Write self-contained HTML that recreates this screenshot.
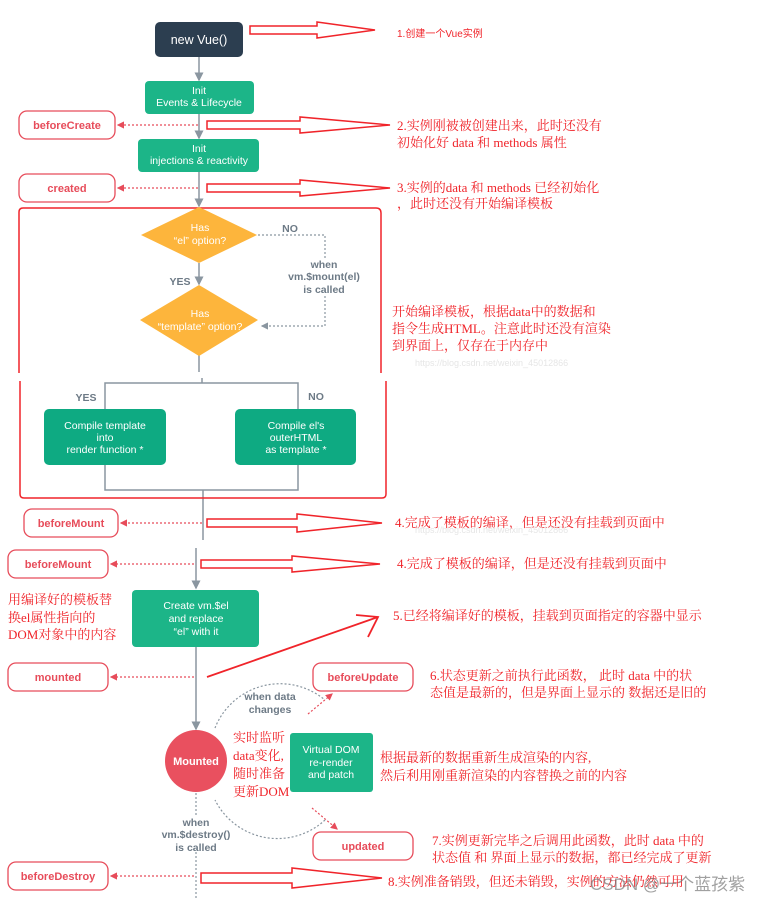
<!DOCTYPE html>
<html><head><meta charset="utf-8"><style>
html,body{margin:0;padding:0;background:#fff;}
svg{display:block;}
.s{font-family:"Liberation Sans","Noto Sans CJK SC",sans-serif;}
.c{font-family:"Liberation Serif","Noto Serif CJK SC",serif;fill:#f0242a;font-size:13px;}
.w{fill:#fff;font-size:10.5px;text-anchor:middle;}
.g{fill:#6d7a86;font-size:10.5px;font-weight:bold;text-anchor:middle;}
.h{fill:#e74c5a;font-size:11px;font-weight:bold;text-anchor:middle;}
</style></head><body>
<svg width="777" height="899" viewBox="0 0 777 899" class="s">
<defs>
<marker id="ga" markerWidth="6" markerHeight="6" refX="5" refY="3" orient="auto"><path d="M0,0L6,3L0,6z" fill="#8a96a0"/></marker>
<marker id="ra" markerWidth="6" markerHeight="6" refX="5" refY="3" orient="auto"><path d="M0,0L6,3L0,6z" fill="#e74c5a"/></marker>
</defs>
<g fill="none" stroke="#8a96a0" stroke-width="1.5">
<line x1="199" y1="57" x2="199" y2="80" marker-end="url(#ga)"/>
<line x1="199" y1="114" x2="199" y2="138" marker-end="url(#ga)"/>
<line x1="199" y1="172" x2="199" y2="206" marker-end="url(#ga)"/>
<line x1="199" y1="263" x2="199" y2="284" marker-end="url(#ga)"/>
<line x1="199" y1="355" x2="199" y2="372"/>
<polyline points="105,409 105,383 298,383 298,409"/>
<line x1="202" y1="383" x2="202" y2="378"/>
<polyline points="105,465 105,490 298,490 298,465"/>
<line x1="203" y1="490" x2="203" y2="540"/>
<line x1="196" y1="548" x2="196" y2="588" marker-end="url(#ga)"/>
<line x1="196" y1="647" x2="196" y2="729" marker-end="url(#ga)"/>
</g>
<g fill="none" stroke="#8a96a0" stroke-width="1.2" stroke-dasharray="2,2">
<polyline points="258,235 325,235 325,260"/>
<polyline points="325,296 325,326 262,326" marker-end="url(#ga)"/>
<line x1="196" y1="793" x2="196" y2="815"/>
<line x1="196" y1="852" x2="196" y2="899"/>
<path d="M215,728 A70,70 0 0 1 325,700"/>
<path d="M325,820 A70,70 0 0 1 215,800"/>
</g>
<!-- red frame -->
<path d="M19,373 L19,212 Q19,208 23,208 L376,208 Q381,208 381,213 L381,373" fill="none" stroke="#f0242a" stroke-width="1.5"/>
<path d="M20,381 L20,494 Q20,498 24,498 L382,498 Q386,498 386,494 L386,381" fill="none" stroke="#f0242a" stroke-width="1.5"/>
<!-- nodes -->
<rect x="155" y="22" width="88" height="35" rx="5" fill="#2c3e50"/>
<text x="199" y="44" fill="#fff" font-size="12.5" text-anchor="middle">new Vue()</text>
<rect x="145" y="81" width="109" height="33" rx="4" fill="#1cb588"/>
<text x="199" y="94" class="w">Init</text><text x="199" y="106" class="w">Events &amp; Lifecycle</text>
<rect x="138" y="139" width="121" height="33" rx="4" fill="#1cb588"/>
<text x="199" y="152" class="w">Init</text><text x="199" y="164" class="w">injections &amp; reactivity</text>
<polygon points="199,207 257,235 199,263 141,235" fill="#fdb53c"/>
<text x="200" y="231" class="w">Has</text><text x="200" y="244" class="w">“el” option?</text>
<polygon points="199,285 258,320 199,356 140,320" fill="#fdb53c"/>
<text x="200" y="317" class="w">Has</text><text x="200" y="330" class="w">“template” option?</text>
<text x="290" y="232" class="g">NO</text><text x="180" y="285" class="g">YES</text>
<text x="324" y="268" class="g">when</text><text x="324" y="280" class="g">vm.$mount(el)</text><text x="324" y="293" class="g">is called</text>
<text x="86" y="401" class="g">YES</text><text x="316" y="400" class="g">NO</text>
<rect x="44" y="409" width="122" height="56" rx="5" fill="#0eaa82"/>
<text x="105" y="429" class="w">Compile template</text><text x="105" y="441" class="w">into</text><text x="105" y="453" class="w">render function *</text>
<rect x="235" y="409" width="121" height="56" rx="5" fill="#0eaa82"/>
<text x="296" y="429" class="w">Compile el's</text><text x="296" y="441" class="w">outerHTML</text><text x="296" y="453" class="w">as template *</text>
<rect x="132" y="590" width="127" height="57" rx="4" fill="#1cb588"/>
<text x="196" y="609" class="w">Create vm.$el</text><text x="196" y="622" class="w">and replace</text><text x="196" y="635" class="w">“el” with it</text>
<ellipse cx="196" cy="761" rx="31" ry="31" fill="#e9505f"/>
<text x="196" y="765" fill="#fff" font-size="11" font-weight="bold" text-anchor="middle">Mounted</text>
<rect x="290" y="733" width="83" height="59" rx="3" fill="#1cb588"/>
<text x="331" y="753" class="w">Virtual DOM</text><text x="331" y="766" class="w">re-render</text><text x="331" y="778" class="w">and patch</text>
<text x="270" y="700" class="g">when data</text><text x="270" y="713" class="g">changes</text>
<text x="196" y="826" class="g">when</text><text x="196" y="838" class="g">vm.$destroy()</text><text x="196" y="851" class="g">is called</text>
<!-- hooks -->
<g fill="#fff" stroke="#e74c5a" stroke-width="1.3">
<rect x="19" y="111" width="96" height="28" rx="8"/>
<rect x="19" y="174" width="96" height="28" rx="8"/>
<rect x="24" y="509" width="94" height="28" rx="8"/>
<rect x="8" y="550" width="100" height="28" rx="8"/>
<rect x="8" y="663" width="100" height="28" rx="8"/>
<rect x="313" y="663" width="100" height="28" rx="8"/>
<rect x="313" y="832" width="100" height="28" rx="8"/>
<rect x="8" y="862" width="100" height="28" rx="8"/>
</g>
<text x="67" y="129" class="h">beforeCreate</text>
<text x="67" y="192" class="h">created</text>
<text x="71" y="527" class="h">beforeMount</text>
<text x="58" y="568" class="h">beforeMount</text>
<text x="58" y="681" class="h">mounted</text>
<text x="363" y="681" class="h">beforeUpdate</text>
<text x="363" y="850" class="h">updated</text>
<text x="58" y="880" class="h">beforeDestroy</text>
<g stroke="#e74c5a" stroke-width="1.2" stroke-dasharray="2,2" fill="none">
<line x1="198" y1="125" x2="118" y2="125" marker-end="url(#ra)"/>
<line x1="198" y1="188" x2="118" y2="188" marker-end="url(#ra)"/>
<line x1="202" y1="523" x2="121" y2="523" marker-end="url(#ra)"/>
<line x1="194" y1="564" x2="111" y2="564" marker-end="url(#ra)"/>
<line x1="194" y1="677" x2="111" y2="677" marker-end="url(#ra)"/>
<line x1="194" y1="876" x2="111" y2="876" marker-end="url(#ra)"/>
<line x1="308" y1="714" x2="332" y2="694" marker-end="url(#ra)"/>
<line x1="312" y1="808" x2="337" y2="829" marker-end="url(#ra)"/>
</g>
<!-- hollow arrows -->
<g fill="#fff" stroke="#f0242a" stroke-width="1.5">
<polygon points="250,26 317,26 317,22 375,30 317,38 317,34 250,34"/>
<polygon points="207,121 300,121 300,117 390,125 300,133 300,129 207,129"/>
<polygon points="207,184 300,184 300,180 390,188 300,196 300,192 207,192"/>
<polygon points="207,519 297,519 297,514 382,523 297,532 297,527 207,527"/>
<polygon points="201,560 292,560 292,556 380,564 292,572 292,568 201,568"/>
<polygon points="201,873 292,873 292,868 382,878 292,888 292,883 201,883"/>
</g>
<g stroke="#f0242a" stroke-width="1.8" fill="none">
<line x1="207" y1="677" x2="378" y2="617"/>
<polyline points="356,615 378,617 368,637"/>
</g>
<!-- Chinese notes -->
<text x="397" y="37" class="c" style="font-family:'Liberation Sans','Noto Sans CJK SC',sans-serif;font-size:10px">1.创建一个Vue实例</text>
<text x="397" y="130" class="c">2.实例刚被被创建出来，此时还没有</text>
<text x="397" y="147" class="c">初始化好 data 和 methods 属性</text>
<text x="397" y="192" class="c">3.实例的data 和 methods 已经初始化</text>
<text x="397" y="208" class="c">，此时还没有开始编译模板</text>
<text x="392" y="316" class="c">开始编译模板，根据data中的数据和</text>
<text x="392" y="333" class="c">指令生成HTML。注意此时还没有渲染</text>
<text x="392" y="350" class="c">到界面上，仅存在于内存中</text>
<text x="395" y="527" class="c">4.完成了模板的编译，但是还没有挂载到页面中</text>
<text x="415" y="533" fill="#e6e6e6" font-size="9">https://blog.csdn.net/weixin_45012866</text>
<text x="415" y="366" fill="#e6e6e6" font-size="9">https://blog.csdn.net/weixin_45012866</text>
<text x="397" y="568" class="c">4.完成了模板的编译，但是还没有挂载到页面中</text>
<text x="8" y="604" class="c">用编译好的模板替</text>
<text x="8" y="622" class="c">换el属性指向的</text>
<text x="8" y="639" class="c">DOM对象中的内容</text>
<text x="393" y="620" class="c">5.已经将编译好的模板，挂载到页面指定的容器中显示</text>
<text x="430" y="680" class="c">6.状态更新之前执行此函数， 此时 data 中的状</text>
<text x="430" y="697" class="c">态值是最新的，但是界面上显示的 数据还是旧的</text>
<text x="233" y="742" class="c">实时监听</text>
<text x="233" y="760" class="c">data变化,</text>
<text x="233" y="778" class="c">随时准备</text>
<text x="233" y="796" class="c">更新DOM</text>
<text x="380" y="762" class="c">根据最新的数据重新生成渲染的内容,</text>
<text x="380" y="780" class="c">然后利用刚重新渲染的内容替换之前的内容</text>
<text x="432" y="845" class="c">7.实例更新完毕之后调用此函数，此时 data 中的</text>
<text x="432" y="862" class="c">状态值 和 界面上显示的数据，都已经完成了更新</text>
<text x="388" y="886" class="c">8.实例准备销毁，但还未销毁，实例的方法仍然可用</text>
<text x="590" y="890" fill="#777" fill-opacity="0.7" font-size="17" font-family="Liberation Sans,Noto Sans CJK SC,sans-serif">CSDN @一个蓝孩紫</text>
</svg>
</body></html>
